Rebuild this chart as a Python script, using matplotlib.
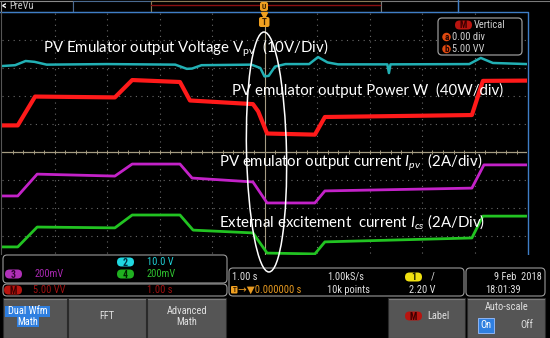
import matplotlib
matplotlib.use('Agg')
import matplotlib.pyplot as plt
from matplotlib.patches import FancyBboxPatch, Ellipse, Rectangle
from matplotlib import font_manager as fm

plt.rcParams['mathtext.fontset'] = 'custom'
plt.rcParams['mathtext.rm'] = 'Lato'
plt.rcParams['mathtext.it'] = 'Lato:italic'

# ---------------- data (time in s, level in vertical divisions) ----------------
volt_t = [0, 0.25, 0.45, 0.62, 0.85, 2.0, 3.3, 3.52, 3.62, 3.8, 4.75, 4.92, 5.0, 5.08, 5.2, 5.4,
          5.85, 6.02, 6.2, 6.4, 7.34, 7.37, 7.40, 8.9, 9.12, 9.35, 10]
volt_v = [3.07, 3.1, 3.25, 3.22, 3.12, 3.14, 3.12, 2.97, 2.98, 3.1, 3.12, 3.0, 2.70, 2.72, 3.05, 3.14,
          3.14, 3.39, 3.2, 3.13, 3.13, 2.82, 3.13, 3.14, 3.36, 3.18, 3.14]

power_t = [0, 0.30, 0.63, 2.15, 2.48, 3.39, 3.58, 4.78, 4.88, 5.05, 5.96, 6.15, 8.95, 9.16, 10]
power_v = [0.95, 0.95, 1.98, 1.95, 2.57, 2.5, 1.84, 1.71, 1.45, 0.66, 0.62, 1.25, 1.32, 2.54, 2.55]

ipv_t = [0, 0.30, 0.67, 2.15, 2.48, 3.39, 3.62, 4.78, 5.05, 5.96, 6.15, 8.95, 9.18, 10]
ipv_v = [-1.57, -1.57, -0.79, -0.86, -0.43, -0.43, -0.93, -1.07, -1.82, -1.82, -1.39, -1.29, -0.46, -0.46]

ics_t = [0, 0.30, 0.67, 2.15, 2.48, 3.39, 3.64, 4.78, 5.05, 5.96, 6.15, 8.95, 9.16, 10]
ics_v = [-3.39, -3.39, -2.68, -2.71, -2.25, -2.25, -2.79, -2.89, -3.61, -3.64, -3.21, -3.07, -2.29, -2.29]

labels = ["PV Emulator output Voltage V$_{\\mathrm{pv}}$  (10V/Div)",
          "PV emulator output Power W  (40W/div)",
          "PV emulator output current $I_{pv}$  (2A/div)",
          "External excitement  current $I_{cs}$ (2A/Div)"]

# ---------------- fonts ----------------
avail = {f.name for f in fm.fontManager.ttflist}
UIF = next((f for f in ['Liberation Sans Narrow', 'DejaVu Sans Condensed', 'Roboto Condensed',
                        'Liberation Sans'] if f in avail), 'DejaVu Sans')
UIFAM = [UIF, 'DejaVu Sans']
ANF = 'Lato' if 'Lato' in avail else 'DejaVu Sans'

W, H = 550, 338
fig = plt.figure(figsize=(5.5, 3.38), dpi=100, facecolor='black')

# ---------------- graticule axes ----------------
gx0, gx1, gy0, gy1 = 2, 527, 12, 292
ax = fig.add_axes([gx0 / W, 1 - gy1 / H, (gx1 - gx0) / W, (gy1 - gy0) / H])
ax.set_xlim(0, 10)
ax.set_ylim(-5, 5)
ax.set_facecolor('black')
for s in ax.spines.values():
    s.set_visible(False)
ax.set_xticks([]); ax.set_yticks([])

for k in range(1, 10):
    if k != 5:
        ax.axvline(k, color='#6a6a6a', lw=0.8, ls=(0, (1, 4)), zorder=1)
for k in range(-4, 5):
    if k != 0:
        ax.axhline(k, color='#6a6a6a', lw=0.8, ls=(0, (1, 4)), zorder=1)
ax.axhline(0, color='#a59c82', lw=0.9, zorder=1.5)
ax.axvline(5, color='#a59c82', lw=0.8, zorder=1.5)
ticks_x = [i / 5 for i in range(1, 50)]
ax.plot(ticks_x, [0] * len(ticks_x), ls='none', marker='|', ms=3, mew=0.7, color='#a59c82', zorder=1.5)

ax.plot(volt_t, volt_v, color='#22b0b4', lw=1.8, zorder=3, solid_joinstyle='round')
ax.plot(power_t, power_v, color='#ff1a1a', lw=3.0, zorder=3, solid_joinstyle='round')
ax.plot(ipv_t, ipv_v, color='#c322c8', lw=2.0, zorder=3, solid_joinstyle='round')
ax.plot(ics_t, ics_v, color='#22c322', lw=2.0, zorder=3, solid_joinstyle='round')

# ---------------- UI overlay ----------------
ui = fig.add_axes([0, 0, 1, 1])
ui.set_xlim(0, W)
ui.set_ylim(H, 0)
ui.axis('off')
ui.patch.set_alpha(0)


def rbox(x0, y0, x1, y1, fc='black', ec='#8a8a8a', lw=0.8, r=3, z=3):
    ui.add_patch(FancyBboxPatch((x0, y0), x1 - x0, y1 - y0,
                                boxstyle=f'round,pad=0,rounding_size={r}',
                                fc=fc, ec=ec, lw=lw, zorder=z))


def badge(x0, x1, yc, fc, txt, tc, h=9, fs=7, z=5):
    rbox(x0, yc - h / 2, x1, yc + h / 2, fc=fc, ec='none', r=h / 2, z=z)
    ui.text((x0 + x1) / 2, yc + 0.5, txt, color=tc, fontsize=fs, ha='center', va='center',
            family=UIFAM, fontweight='bold', zorder=z + 1)


def t(x, y, s, c, fs=7.5, ha='left', z=6, **kw):
    ui.text(x, y, s, color=c, fontsize=fs, ha=ha, va='center', family=UIFAM, zorder=z, **kw)


# top bar
ui.plot([0, 550], [0.6, 0.6], color='#7a7a7a', lw=0.8, zorder=2)
ui.add_patch(Rectangle((0.5, 0.5), 72, 11, fc='black', ec='#8a8a8a', lw=0.8, zorder=2))
ui.add_patch(Rectangle((72.5, 0.5), 78, 11, fc='black', ec='#4a6a90', lw=0.8, zorder=2))
ui.add_patch(Rectangle((150.5, 0.5), 230, 11, fc='black', ec='#8a7a55', lw=0.8, zorder=2))
ui.plot([151, 380], [5, 5], color='#8a1010', lw=1.0, zorder=2.5)
ui.add_patch(Rectangle((380.5, 0.5), 77, 11, fc='black', ec='#7a7a7a', lw=0.8, zorder=2))
t(2, 6, '<', '#ffffff', fs=7.5, fontweight='bold')
t(9, 6, 'PreVu', '#c8c8c8', fs=7.5)
# graticule border (blue)
ui.plot([0, 527.5, 527.5], [12, 12, 255], color='#3f7ec6', lw=1.0, zorder=2.6)
ui.plot([457.5, 457.5], [0, 12], color='#3f7ec6', lw=1.0, zorder=2.6)
ui.plot([1, 1], [12, 255], color='#555555', lw=0.8, zorder=2.6)

# trigger markers
ui.add_patch(FancyBboxPatch((260, 2), 8, 9, boxstyle='round,pad=0,rounding_size=2',
                            fc='#f0a020', ec='none', zorder=5))
ui.text(264, 6.5, 'U', color='#3a2000', fontsize=5.5, ha='center', va='center', family=UIFAM,
        fontweight='bold', zorder=6)
ui.plot([264], [14.5], marker='v', ms=4, color='#f0a020', zorder=5)
ui.add_patch(FancyBboxPatch((259, 17), 10.5, 10, boxstyle='round,pad=0,rounding_size=2',
                            fc='#f0a020', ec='none', zorder=5))
ui.text(264.3, 22.3, 'T', color='#3a2000', fontsize=6.5, ha='center', va='center', family=UIFAM,
        fontweight='bold', zorder=6)

# vertical readout box
rbox(438, 18, 522, 55, fc='black', ec='#9a9a9a', lw=0.9, r=4, z=4)
badge(455, 472, 25, '#b8140f', 'M', '#3a0000', h=9, fs=7)
t(474, 25, 'Vertical', '#d0d0d0', fs=7.5)
ui.add_patch(Ellipse((446.5, 37), 8.5, 8.5, fc='#e04a10', ec='none', zorder=5))
ui.text(446.5, 37, 'a', color='#200000', fontsize=6.5, ha='center', va='center', family=UIFAM,
        fontweight='bold', zorder=6)
t(452, 37, '0.00 div', '#d0d0d0', fs=7.5)
ui.add_patch(Ellipse((446.5, 49), 8.5, 8.5, fc='#e04a10', ec='none', zorder=5))
ui.text(446.5, 49, 'b', color='#200000', fontsize=6.5, ha='center', va='center', family=UIFAM,
        fontweight='bold', zorder=6)
t(452, 49, '5.00 VV', '#d0d0d0', fs=7.5)

# annotations
ann_pos = [(43, 53), (232, 95), (219, 167), (219, 227)]
for (x, y), s in zip(ann_pos, labels):
    ui.text(x, y, s, color='white', fontsize=10.8, family=ANF, ha='left', va='baseline', zorder=7)

# ellipse highlight
ui.add_patch(Ellipse((266.5, 152), 40, 240, angle=-1.2, fc='none', ec='white', lw=1.1, zorder=8))

# bottom readout panels
ui.add_patch(Rectangle((0, 255), 550, 43, fc='black', ec='none', zorder=3.5))
rbox(3, 255, 227, 283, ec='#9a9a9a', r=4, z=4)
badge(117, 134, 262, '#20d8e0', '2', '#003040')
t(147, 262, '10.0 V', '#20d0d8')
badge(5, 22, 274, '#b030b8', '3', '#300030')
t(35, 274, '200mV', '#a828b0')
badge(117, 134, 274, '#20b020', '4', '#002000')
t(147, 274, '200mV', '#30c030')
rbox(3, 284, 227, 296, ec='#9a9a9a', r=4, z=4)
badge(4, 22, 290, '#b8140f', 'M', '#3a0000')
t(33, 290, '5.00 VV', '#a01010')
t(147, 290, '1.00 s', '#a01010')

rbox(229, 268, 464, 296, ec='#9a9a9a', r=4, z=4)
t(232, 277, '1.00 s', '#e0e0e0')
ui.add_patch(FancyBboxPatch((231, 286), 6.5, 7.5, boxstyle='round,pad=0,rounding_size=1',
                            fc='#f0a020', ec='none', zorder=5))
ui.text(234.3, 290, 'T', color='#3a2000', fontsize=5, ha='center', va='center', family=UIFAM,
        fontweight='bold', zorder=6)
t(238, 290, '\u2192\u25bc0.000000 s', '#e89a20')
t(327, 277, '1.00kS/s', '#e0e0e0')
t(327, 290, '10k points', '#e0e0e0')
badge(405, 422, 277, '#f0e010', '1', '#202000')
t(431, 277, '/', '#e0e0e0')
t(409, 290, '2.20 V', '#e0e0e0')

rbox(466, 268, 545, 296, ec='#9a9a9a', r=4, z=4)
t(542, 277, '9 Feb  2018', '#e0e0e0', ha='right')
t(485, 290, '18:01:39', '#e0e0e0')

# bottom buttons
btn_fc = '#555555'
for x0, x1 in [(3, 67), (68, 146), (147, 226), (388, 465), (467, 545)]:
    ui.add_patch(Rectangle((x0, 298), x1 - x0, 40, fc=btn_fc, ec='#2a2a2a', lw=0.8, zorder=4))
    ui.plot([x0 + 1, x1 - 1], [298.5, 298.5], color='#7a7a7a', lw=0.8, zorder=4.5)
ui.add_patch(Rectangle((5, 306), 45, 11, fc='#2f7fe0', ec='none', zorder=5))
ui.add_patch(Rectangle((17, 317), 22, 10, fc='#2f7fe0', ec='none', zorder=5))
t(27.5, 311.5, 'Dual Wfm', '#ffffff', fs=7.5, ha='center')
t(28, 322, 'Math', '#ffffff', fs=7.5, ha='center')
t(107, 316, 'FFT', '#e0e0e0', fs=7.5, ha='center')
t(187, 311, 'Advanced', '#e0e0e0', fs=7.5, ha='center')
t(187, 322, 'Math', '#e0e0e0', fs=7.5, ha='center')
badge(405, 422, 316, '#b8140f', 'M', '#3a0000')
t(427, 316, 'Label', '#e0e0e0', fs=7.5)
t(507, 307, 'Auto-scale', '#e0e0e0', fs=7.5, ha='center')
ui.add_patch(Rectangle((478, 318), 16, 15, fc='#2f7fe0', ec='#9ac0ff', lw=0.6, zorder=5))
t(486, 325.5, 'On', '#ffffff', fs=7.5, ha='center')
t(527, 325.5, 'Off', '#e0e0e0', fs=7.5, ha='center')

fig.savefig('out.png', dpi=100, facecolor='black')
